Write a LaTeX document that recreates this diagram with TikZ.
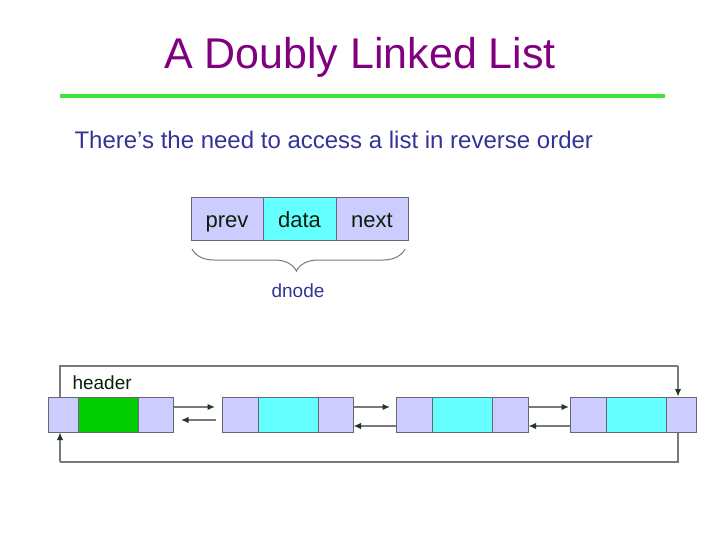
\documentclass[tikz,border=0pt]{standalone}
\usepackage{fontspec}
\setmainfont{Liberation Sans}
\usetikzlibrary{arrows.meta,decorations.pathreplacing}
\definecolor{titlecol}{HTML}{800080}
\definecolor{bluetext}{HTML}{333399}
\definecolor{lav}{HTML}{CCCCFF}
\definecolor{cyanc}{HTML}{66FFFF}
\definecolor{hgreen}{HTML}{00CC00}
\definecolor{rulegreen}{HTML}{3CE63C}
\definecolor{bordercol}{HTML}{666677}
\definecolor{linecol}{HTML}{7A7A7A}
\definecolor{tipcol}{HTML}{1F3A1F}
\definecolor{celltext}{HTML}{0A200A}
\tikzset{
  cell/.style={draw=bordercol, line width=1pt, minimum height=35pt, inner sep=0pt},
  bigcell/.style={draw=bordercol, line width=1pt, minimum height=42pt, inner sep=0pt,
    text height=20pt, text depth=2pt,
    font=\fontsize{22}{24}\selectfont, text=celltext},
  conn/.style={draw=linecol, line width=1.4pt, -{Latex[length=7.5pt,width=6.5pt,color=tipcol]}},
  loopline/.style={draw=linecol, line width=1.2pt}
}
\begin{document}
\begin{tikzpicture}[x=1pt,y=-1pt]
\useasboundingbox (0,0) rectangle (720,540);
% title
\node (title) at (360,57) {\color{titlecol}\fontsize{43}{46}\selectfont A Doubly Linked List};
\draw[rulegreen, line width=4pt] (60,96) -- (665,96);
\node[anchor=west, text=bluetext, font=\fontsize{24}{26}\selectfont] (sub) at (71,140) {There’s the need to access a list in reverse order};
% dnode
\node[bigcell, fill=lav, minimum width=72pt] (dprev) at (227,219) {prev};
\node[bigcell, fill=cyanc, minimum width=73pt] (ddata) at (299.5,219) {data};
\node[bigcell, fill=lav, minimum width=72pt] (dnext) at (372,219) {next};
\draw[linecol, line width=1pt, decoration={brace, mirror, amplitude=22pt, aspect=0.49}, decorate] (192,249) -- (405,249);
\node[text=bluetext, font=\fontsize{19}{21}\selectfont] (dlabel) at (298,291) {dnode};
% list nodes
\node[cell, fill=lav, minimum width=30pt] (p1) at (63,414.5) {};
\node[cell, fill=hgreen, minimum width=60pt] (d1) at (108,414.5) {};
\node[cell, fill=lav, minimum width=35pt] (n1) at (155.5,414.5) {};
\node[cell, fill=lav, minimum width=36pt] (p2) at (240,414.5) {};
\node[cell, fill=cyanc, minimum width=60pt] (d2) at (288,414.5) {};
\node[cell, fill=lav, minimum width=35pt] (n2) at (335.5,414.5) {};
\node[cell, fill=lav, minimum width=36pt] (p3) at (414,414.5) {};
\node[cell, fill=cyanc, minimum width=60pt] (d3) at (462,414.5) {};
\node[cell, fill=lav, minimum width=36pt] (n3) at (510,414.5) {};
\node[cell, fill=lav, minimum width=36pt] (p4) at (588,414.5) {};
\node[cell, fill=cyanc, minimum width=60pt] (d4) at (636,414.5) {};
\node[cell, fill=lav, minimum width=30pt] (n4) at (681,414.5) {};
\node[anchor=west, text=celltext, font=\fontsize{19}{21}\selectfont] (hdr) at (69,383) {header};
% arrows between nodes
\coordinate (f1) at (215,407);
\coordinate (b1s) at (216,420);
\coordinate (b1e) at (181,420);
\draw[conn] (n1.east |- f1) -- (f1);
\draw[conn] (b1s) -- (b1e);
\coordinate (f2) at (390,407);
\draw[conn] (n2.east |- f2) -- (f2);
\coordinate (b2) at (353,426);
\draw[conn] (p3.west |- b2) -- (n2.east |- b2);
\coordinate (f3) at (569,407);
\draw[conn] (n3.east |- f3) -- (f3);
\coordinate (b3) at (528,426);
\draw[conn] (p4.west |- b3) -- (n3.east |- b3);
% loops
\coordinate (lx) at (60,0);
\coordinate (rx) at (678,0);
\draw[loopline] (lx |- p1.north) -- (60,366) -- (678,366);
\draw[conn, line width=1.2pt] (678,366) -- (rx |- n4.north);
\draw[loopline] (rx |- n4.south) -- (678,462) -- (60,462);
\draw[conn, line width=1.2pt] (60,462) -- (lx |- p1.south);
\end{tikzpicture}
\end{document}
